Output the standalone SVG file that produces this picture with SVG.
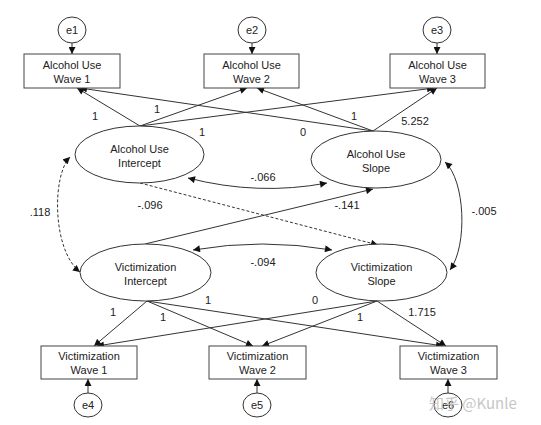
<svg xmlns="http://www.w3.org/2000/svg" width="541" height="425" viewBox="0 0 541 425">
<defs>
<marker id="ah" viewBox="0 0 10 10" refX="10" refY="5" markerWidth="8" markerHeight="7" markerUnits="userSpaceOnUse" orient="auto-start-reverse">
<path d="M0,0 L10,5 L0,10 Z" fill="#111"/>
</marker>
</defs>
<style>
.box{fill:#fff;stroke:#444;stroke-width:1}
.lat{fill:#fff;stroke:#333;stroke-width:1}
.err{fill:#fff;stroke:#333;stroke-width:1}
.t{font-family:"Liberation Sans",Arial,sans-serif;font-size:11px;fill:#222;text-anchor:middle}
.lbl{font-family:"Liberation Sans",Arial,sans-serif;font-size:11px;fill:#222;text-anchor:middle}
.c{fill:none;stroke:#333;stroke-width:1}
.d{fill:none;stroke:#333;stroke-width:1;stroke-dasharray:3,2}
.wm{font-family:"Noto Sans CJK SC","Liberation Sans",sans-serif;font-size:15px;fill:#bdbdbd;opacity:0.85}
</style>
<rect width="541" height="425" fill="#fff"/>

<g id="connectors">
<path class="c" d="M140,126 L77,88" marker-end="url(#ah)"/>
<path class="c" d="M140,126 L247,88" marker-end="url(#ah)"/>
<path class="c" d="M140,126 L434,88" marker-end="url(#ah)"/>
<path class="c" d="M373,131 L80,88" marker-end="url(#ah)"/>
<path class="c" d="M373,131 L257,88" marker-end="url(#ah)"/>
<path class="c" d="M373,131 L437,88" marker-end="url(#ah)"/>
<path class="c" d="M147,301 L94,346" marker-end="url(#ah)"/>
<path class="c" d="M147,301 L253,346" marker-end="url(#ah)"/>
<path class="c" d="M147,301 L443,346" marker-end="url(#ah)"/>
<path class="c" d="M377,301 L97,346" marker-end="url(#ah)"/>
<path class="c" d="M377,301 L262,346" marker-end="url(#ah)"/>
<path class="c" d="M377,301 L446,346" marker-end="url(#ah)"/>
<path class="c" d="M72,43 L72,54" marker-end="url(#ah)"/>
<path class="c" d="M252,43 L252,54" marker-end="url(#ah)"/>
<path class="c" d="M437,43 L437,54" marker-end="url(#ah)"/>
<path class="c" d="M88,393 L88,379" marker-end="url(#ah)"/>
<path class="c" d="M257,393 L257,379" marker-end="url(#ah)"/>
<path class="c" d="M448,393 L448,379" marker-end="url(#ah)"/>
<path class="c" d="M188,178 Q258,196 327,183" marker-start="url(#ah)" marker-end="url(#ah)"/>
<path class="c" d="M193,250 Q262,238 332,250" marker-start="url(#ah)" marker-end="url(#ah)"/>
<path class="d" d="M70,157 C52,175 52,250 80,272" marker-start="url(#ah)" marker-end="url(#ah)"/>
<path class="c" d="M445,162 C465,180 468,245 450,270" marker-start="url(#ah)" marker-end="url(#ah)"/>
<path class="d" d="M140,183 L378,245" marker-end="url(#ah)"/>
<path class="c" d="M145,244 L373,189" marker-end="url(#ah)"/>
</g>

<g id="labels">
<text class="lbl" x="95" y="120">1</text>
<text class="lbl" x="157" y="113">1</text>
<text class="lbl" x="202" y="136">1</text>
<text class="lbl" x="303" y="136">0</text>
<text class="lbl" x="354" y="120">1</text>
<text class="lbl" x="415" y="125">5.252</text>
<text class="lbl" x="263" y="181">-.066</text>
<text class="lbl" x="150" y="209">-.096</text>
<text class="lbl" x="347" y="209">-.141</text>
<text class="lbl" x="40" y="216">.118</text>
<text class="lbl" x="484" y="215">-.005</text>
<text class="lbl" x="263" y="266">-.094</text>
<text class="lbl" x="113" y="316">1</text>
<text class="lbl" x="163" y="321">1</text>
<text class="lbl" x="208" y="304">1</text>
<text class="lbl" x="315" y="304">0</text>
<text class="lbl" x="360" y="321">1</text>
<text class="lbl" x="422" y="316">1.715</text>
</g>

<g id="e1"><ellipse class="err" cx="72" cy="30" rx="14" ry="13"/><text class="t" x="72" y="34">e1</text></g>
<g id="e2"><ellipse class="err" cx="252" cy="30" rx="14" ry="13"/><text class="t" x="252" y="34">e2</text></g>
<g id="e3"><ellipse class="err" cx="437" cy="30" rx="14" ry="13"/><text class="t" x="437" y="34">e3</text></g>

<g id="alc1"><rect class="box" x="24" y="54" width="96" height="34"/><text class="t" x="72" y="69">Alcohol Use</text><text class="t" x="72" y="83">Wave 1</text></g>
<g id="alc2"><rect class="box" x="204" y="54" width="95" height="34"/><text class="t" x="251.5" y="69">Alcohol Use</text><text class="t" x="251.5" y="83">Wave 2</text></g>
<g id="alc3"><rect class="box" x="390" y="54" width="95" height="34"/><text class="t" x="437.5" y="69">Alcohol Use</text><text class="t" x="437.5" y="83">Wave 3</text></g>

<g id="alcInt"><ellipse class="lat" cx="139.5" cy="154.5" rx="64.5" ry="28.5"/><text class="t" x="139.5" y="153">Alcohol Use</text><text class="t" x="139.5" y="167">Intercept</text></g>
<g id="alcSlope"><ellipse class="lat" cx="376" cy="159.5" rx="65" ry="28.5"/><text class="t" x="376" y="158">Alcohol Use</text><text class="t" x="376" y="172">Slope</text></g>
<g id="vicInt"><ellipse class="lat" cx="145.5" cy="272.5" rx="65.5" ry="28.5"/><text class="t" x="145.5" y="271">Victimization</text><text class="t" x="145.5" y="285">Intercept</text></g>
<g id="vicSlope"><ellipse class="lat" cx="381.5" cy="272.5" rx="65.5" ry="28.5"/><text class="t" x="381.5" y="271">Victimization</text><text class="t" x="381.5" y="285">Slope</text></g>

<g id="vic1"><rect class="box" x="41" y="346" width="96" height="33"/><text class="t" x="89" y="360">Victimization</text><text class="t" x="89" y="374">Wave 1</text></g>
<g id="vic2"><rect class="box" x="209" y="346" width="97" height="33"/><text class="t" x="257.5" y="360">Victimization</text><text class="t" x="257.5" y="374">Wave 2</text></g>
<g id="vic3"><rect class="box" x="400" y="346" width="97" height="33"/><text class="t" x="448.5" y="360">Victimization</text><text class="t" x="448.5" y="374">Wave 3</text></g>

<g id="e4"><ellipse class="err" cx="88" cy="405" rx="14" ry="12"/><text class="t" x="88" y="409">e4</text></g>
<g id="e5"><ellipse class="err" cx="257" cy="405" rx="14" ry="12"/><text class="t" x="257" y="409">e5</text></g>
<g id="e6"><ellipse class="err" cx="448" cy="405" rx="14" ry="12"/><text class="t" x="448" y="409">e6</text></g>

<text class="wm" x="429" y="409">知乎 @Kunle</text>
</svg>
